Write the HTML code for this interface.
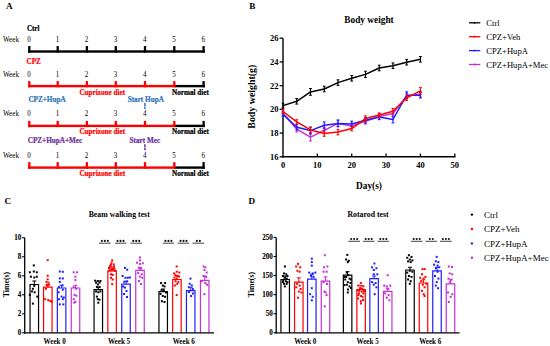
<!DOCTYPE html>
<html><head><meta charset="utf-8"><style>
html,body{margin:0;padding:0;background:#fff;overflow:hidden;width:550px;height:346px;}
svg{display:block;}
text{font-family:"Liberation Serif", serif;}
</style></head><body>
<svg width="550" height="346" viewBox="0 0 550 346">
<rect width="550" height="346" fill="#fff"/>
<text x="6" y="9.1" font-size="9.2" font-weight="bold" fill="#000" text-anchor="start" >A</text>
<text x="0" y="0" font-size="7" font-weight="bold" fill="#000" text-anchor="start" transform="translate(27.00 31.20) scale(1 1.07)" stroke="#000" stroke-width="0.22">Ctrl</text>
<text x="0" y="0" font-size="7.1" font-weight="normal" fill="#000" text-anchor="start" transform="translate(3.00 42.00) scale(1 1.12)">Week</text>
<text x="0" y="0" font-size="7.0" font-weight="normal" fill="#000" text-anchor="middle" transform="translate(29.00 42.00) scale(1 1.12)">0</text>
<text x="0" y="0" font-size="7.0" font-weight="normal" fill="#000" text-anchor="middle" transform="translate(57.40 42.00) scale(1 1.12)">1</text>
<text x="0" y="0" font-size="7.0" font-weight="normal" fill="#000" text-anchor="middle" transform="translate(86.60 42.00) scale(1 1.12)">2</text>
<text x="0" y="0" font-size="7.0" font-weight="normal" fill="#000" text-anchor="middle" transform="translate(115.50 42.00) scale(1 1.12)">3</text>
<text x="0" y="0" font-size="7.0" font-weight="normal" fill="#000" text-anchor="middle" transform="translate(144.70 42.00) scale(1 1.12)">4</text>
<text x="0" y="0" font-size="7.0" font-weight="normal" fill="#000" text-anchor="middle" transform="translate(174.00 42.00) scale(1 1.12)">5</text>
<text x="0" y="0" font-size="7.0" font-weight="normal" fill="#000" text-anchor="middle" transform="translate(203.30 42.00) scale(1 1.12)">6</text>
<line x1="28.1" y1="51.5" x2="57.7" y2="51.5" stroke="#000000" stroke-width="2.4" />
<line x1="57.7" y1="51.5" x2="86.9" y2="51.5" stroke="#000000" stroke-width="2.4" />
<line x1="86.9" y1="51.5" x2="115.8" y2="51.5" stroke="#000000" stroke-width="2.4" />
<line x1="115.8" y1="51.5" x2="145.0" y2="51.5" stroke="#000000" stroke-width="2.4" />
<line x1="145.0" y1="51.5" x2="174.3" y2="51.5" stroke="#000000" stroke-width="2.4" />
<line x1="174.3" y1="51.5" x2="204.79999999999998" y2="51.5" stroke="#000000" stroke-width="2.4" />
<line x1="29.3" y1="46.05" x2="29.3" y2="52.7" stroke="#000000" stroke-width="2.3" />
<line x1="57.7" y1="46.05" x2="57.7" y2="52.7" stroke="#000000" stroke-width="2.3" />
<line x1="86.9" y1="46.05" x2="86.9" y2="52.7" stroke="#000000" stroke-width="2.3" />
<line x1="115.8" y1="46.05" x2="115.8" y2="52.7" stroke="#000000" stroke-width="2.3" />
<line x1="145.0" y1="46.05" x2="145.0" y2="52.7" stroke="#000000" stroke-width="2.3" />
<line x1="174.3" y1="46.05" x2="174.3" y2="52.7" stroke="#000000" stroke-width="2.3" />
<line x1="203.6" y1="46.05" x2="203.6" y2="52.7" stroke="#000000" stroke-width="2.3" />
<text x="0" y="0" font-size="7.1" font-weight="bold" fill="#ff0000" text-anchor="start" transform="translate(26.60 63.60) scale(1 1.07)" stroke="#ff0000" stroke-width="0.22">CPZ</text>
<text x="0" y="0" font-size="7.1" font-weight="normal" fill="#000" text-anchor="start" transform="translate(3.00 77.00) scale(1 1.12)">Week</text>
<text x="0" y="0" font-size="7.0" font-weight="normal" fill="#000" text-anchor="middle" transform="translate(29.00 77.00) scale(1 1.12)">0</text>
<text x="0" y="0" font-size="7.0" font-weight="normal" fill="#000" text-anchor="middle" transform="translate(57.40 77.00) scale(1 1.12)">1</text>
<text x="0" y="0" font-size="7.0" font-weight="normal" fill="#000" text-anchor="middle" transform="translate(86.60 77.00) scale(1 1.12)">2</text>
<text x="0" y="0" font-size="7.0" font-weight="normal" fill="#000" text-anchor="middle" transform="translate(115.50 77.00) scale(1 1.12)">3</text>
<text x="0" y="0" font-size="7.0" font-weight="normal" fill="#000" text-anchor="middle" transform="translate(144.70 77.00) scale(1 1.12)">4</text>
<text x="0" y="0" font-size="7.0" font-weight="normal" fill="#000" text-anchor="middle" transform="translate(174.00 77.00) scale(1 1.12)">5</text>
<text x="0" y="0" font-size="7.0" font-weight="normal" fill="#000" text-anchor="middle" transform="translate(203.30 77.00) scale(1 1.12)">6</text>
<line x1="28.1" y1="86.1" x2="57.7" y2="86.1" stroke="#ff0000" stroke-width="2.4" />
<line x1="57.7" y1="86.1" x2="86.9" y2="86.1" stroke="#ff0000" stroke-width="2.4" />
<line x1="86.9" y1="86.1" x2="115.8" y2="86.1" stroke="#ff0000" stroke-width="2.4" />
<line x1="115.8" y1="86.1" x2="145.0" y2="86.1" stroke="#ff0000" stroke-width="2.4" />
<line x1="145.0" y1="86.1" x2="174.3" y2="86.1" stroke="#ff0000" stroke-width="2.4" />
<line x1="174.3" y1="86.1" x2="204.79999999999998" y2="86.1" stroke="#000000" stroke-width="2.4" />
<line x1="29.3" y1="81.1" x2="29.3" y2="87.3" stroke="#ff0000" stroke-width="2.3" />
<line x1="57.7" y1="81.1" x2="57.7" y2="87.3" stroke="#ff0000" stroke-width="2.3" />
<line x1="86.9" y1="81.1" x2="86.9" y2="87.3" stroke="#ff0000" stroke-width="2.3" />
<line x1="115.8" y1="81.1" x2="115.8" y2="87.3" stroke="#ff0000" stroke-width="2.3" />
<line x1="145.0" y1="81.1" x2="145.0" y2="87.3" stroke="#ff0000" stroke-width="2.3" />
<line x1="174.3" y1="81.1" x2="174.3" y2="87.3" stroke="#ff0000" stroke-width="2.3" />
<line x1="203.6" y1="81.1" x2="203.6" y2="87.3" stroke="#000000" stroke-width="2.3" />
<text x="0" y="0" font-size="7.2" font-weight="bold" fill="#ff0000" text-anchor="start" transform="translate(79.40 94.60) scale(1 1.07)" stroke="#ff0000" stroke-width="0.22">Cuprizone diet</text>
<text x="0" y="0" font-size="7.2" font-weight="bold" fill="#000" text-anchor="start" transform="translate(172.00 94.60) scale(1 1.07)" stroke="#000" stroke-width="0.22">Normal diet</text>
<text x="0" y="0" font-size="7.2" font-weight="bold" fill="#2e75b6" text-anchor="start" transform="translate(28.40 102.40) scale(1 1.07)" stroke="#2e75b6" stroke-width="0.22">CPZ+HupA</text>
<text x="0" y="0" font-size="7.2" font-weight="bold" fill="#2e75b6" text-anchor="start" transform="translate(127.70 102.40) scale(1 1.07)" stroke="#2e75b6" stroke-width="0.22">Start HupA</text>
<line x1="144.9" y1="103.1" x2="144.9" y2="109.1" stroke="#2e75b6" stroke-width="1.5" stroke-dasharray="2.8 0.5"/>
<text x="0" y="0" font-size="7.1" font-weight="normal" fill="#000" text-anchor="start" transform="translate(3.00 116.20) scale(1 1.12)">Week</text>
<text x="0" y="0" font-size="7.0" font-weight="normal" fill="#000" text-anchor="middle" transform="translate(29.00 116.20) scale(1 1.12)">0</text>
<text x="0" y="0" font-size="7.0" font-weight="normal" fill="#000" text-anchor="middle" transform="translate(57.40 116.20) scale(1 1.12)">1</text>
<text x="0" y="0" font-size="7.0" font-weight="normal" fill="#000" text-anchor="middle" transform="translate(86.60 116.20) scale(1 1.12)">2</text>
<text x="0" y="0" font-size="7.0" font-weight="normal" fill="#000" text-anchor="middle" transform="translate(115.50 116.20) scale(1 1.12)">3</text>
<text x="0" y="0" font-size="7.0" font-weight="normal" fill="#000" text-anchor="middle" transform="translate(144.70 116.20) scale(1 1.12)">4</text>
<text x="0" y="0" font-size="7.0" font-weight="normal" fill="#000" text-anchor="middle" transform="translate(174.00 116.20) scale(1 1.12)">5</text>
<text x="0" y="0" font-size="7.0" font-weight="normal" fill="#000" text-anchor="middle" transform="translate(203.30 116.20) scale(1 1.12)">6</text>
<line x1="28.1" y1="125.9" x2="57.7" y2="125.9" stroke="#ff0000" stroke-width="2.4" />
<line x1="57.7" y1="125.9" x2="86.9" y2="125.9" stroke="#ff0000" stroke-width="2.4" />
<line x1="86.9" y1="125.9" x2="115.8" y2="125.9" stroke="#ff0000" stroke-width="2.4" />
<line x1="115.8" y1="125.9" x2="145.0" y2="125.9" stroke="#ff0000" stroke-width="2.4" />
<line x1="145.0" y1="125.9" x2="174.3" y2="125.9" stroke="#ff0000" stroke-width="2.4" />
<line x1="174.3" y1="125.9" x2="204.79999999999998" y2="125.9" stroke="#000000" stroke-width="2.4" />
<line x1="29.3" y1="120.9" x2="29.3" y2="127.10000000000001" stroke="#ff0000" stroke-width="2.3" />
<line x1="57.7" y1="120.9" x2="57.7" y2="127.10000000000001" stroke="#ff0000" stroke-width="2.3" />
<line x1="86.9" y1="120.9" x2="86.9" y2="127.10000000000001" stroke="#ff0000" stroke-width="2.3" />
<line x1="115.8" y1="120.9" x2="115.8" y2="127.10000000000001" stroke="#ff0000" stroke-width="2.3" />
<line x1="145.0" y1="120.9" x2="145.0" y2="127.10000000000001" stroke="#ff0000" stroke-width="2.3" />
<line x1="174.3" y1="120.9" x2="174.3" y2="127.10000000000001" stroke="#ff0000" stroke-width="2.3" />
<line x1="203.6" y1="120.9" x2="203.6" y2="127.10000000000001" stroke="#000000" stroke-width="2.3" />
<text x="0" y="0" font-size="7.2" font-weight="bold" fill="#ff0000" text-anchor="start" transform="translate(79.40 134.30) scale(1 1.07)" stroke="#ff0000" stroke-width="0.22">Cuprizone diet</text>
<text x="0" y="0" font-size="7.2" font-weight="bold" fill="#000" text-anchor="start" transform="translate(172.00 134.30) scale(1 1.07)" stroke="#000" stroke-width="0.22">Normal diet</text>
<text x="0" y="0" font-size="7.2" font-weight="bold" fill="#7030a0" text-anchor="start" transform="translate(27.70 142.80) scale(1 1.07)" stroke="#7030a0" stroke-width="0.22">CPZ+HupA+Mec</text>
<text x="0" y="0" font-size="7.2" font-weight="bold" fill="#7030a0" text-anchor="start" transform="translate(129.60 142.80) scale(1 1.07)" stroke="#7030a0" stroke-width="0.22">Start Mec</text>
<line x1="144.9" y1="144.2" x2="144.9" y2="150.6" stroke="#7030a0" stroke-width="1.5" stroke-dasharray="2.8 0.5"/>
<text x="0" y="0" font-size="7.1" font-weight="normal" fill="#000" text-anchor="start" transform="translate(3.00 158.40) scale(1 1.12)">Week</text>
<text x="0" y="0" font-size="7.0" font-weight="normal" fill="#000" text-anchor="middle" transform="translate(29.00 158.40) scale(1 1.12)">0</text>
<text x="0" y="0" font-size="7.0" font-weight="normal" fill="#000" text-anchor="middle" transform="translate(57.40 158.40) scale(1 1.12)">1</text>
<text x="0" y="0" font-size="7.0" font-weight="normal" fill="#000" text-anchor="middle" transform="translate(86.60 158.40) scale(1 1.12)">2</text>
<text x="0" y="0" font-size="7.0" font-weight="normal" fill="#000" text-anchor="middle" transform="translate(115.50 158.40) scale(1 1.12)">3</text>
<text x="0" y="0" font-size="7.0" font-weight="normal" fill="#000" text-anchor="middle" transform="translate(144.70 158.40) scale(1 1.12)">4</text>
<text x="0" y="0" font-size="7.0" font-weight="normal" fill="#000" text-anchor="middle" transform="translate(174.00 158.40) scale(1 1.12)">5</text>
<text x="0" y="0" font-size="7.0" font-weight="normal" fill="#000" text-anchor="middle" transform="translate(203.30 158.40) scale(1 1.12)">6</text>
<line x1="28.1" y1="167.6" x2="57.7" y2="167.6" stroke="#ff0000" stroke-width="2.4" />
<line x1="57.7" y1="167.6" x2="86.9" y2="167.6" stroke="#ff0000" stroke-width="2.4" />
<line x1="86.9" y1="167.6" x2="115.8" y2="167.6" stroke="#ff0000" stroke-width="2.4" />
<line x1="115.8" y1="167.6" x2="145.0" y2="167.6" stroke="#ff0000" stroke-width="2.4" />
<line x1="145.0" y1="167.6" x2="174.3" y2="167.6" stroke="#ff0000" stroke-width="2.4" />
<line x1="174.3" y1="167.6" x2="204.79999999999998" y2="167.6" stroke="#000000" stroke-width="2.4" />
<line x1="29.3" y1="162.1" x2="29.3" y2="168.79999999999998" stroke="#ff0000" stroke-width="2.3" />
<line x1="57.7" y1="162.1" x2="57.7" y2="168.79999999999998" stroke="#ff0000" stroke-width="2.3" />
<line x1="86.9" y1="162.1" x2="86.9" y2="168.79999999999998" stroke="#ff0000" stroke-width="2.3" />
<line x1="115.8" y1="162.1" x2="115.8" y2="168.79999999999998" stroke="#ff0000" stroke-width="2.3" />
<line x1="145.0" y1="162.1" x2="145.0" y2="168.79999999999998" stroke="#ff0000" stroke-width="2.3" />
<line x1="174.3" y1="162.1" x2="174.3" y2="168.79999999999998" stroke="#ff0000" stroke-width="2.3" />
<line x1="203.6" y1="162.1" x2="203.6" y2="168.79999999999998" stroke="#000000" stroke-width="2.3" />
<text x="0" y="0" font-size="7.2" font-weight="bold" fill="#ff0000" text-anchor="start" transform="translate(79.40 176.00) scale(1 1.07)" stroke="#ff0000" stroke-width="0.22">Cuprizone diet</text>
<text x="0" y="0" font-size="7.2" font-weight="bold" fill="#000" text-anchor="start" transform="translate(172.00 176.00) scale(1 1.07)" stroke="#000" stroke-width="0.22">Normal diet</text>
<text x="249.2" y="9.1" font-size="9.2" font-weight="bold" fill="#000" text-anchor="start" >B</text>
<text x="369" y="23.2" font-size="9.3" font-weight="bold" fill="#000" text-anchor="middle" >Body weight</text>
<line x1="283" y1="38.2" x2="283" y2="157.5" stroke="#000000" stroke-width="1.4" />
<line x1="282.3" y1="156.8" x2="455.5" y2="156.8" stroke="#000000" stroke-width="1.4" />
<line x1="279.6" y1="156.8" x2="283" y2="156.8" stroke="#000000" stroke-width="1.3" />
<text x="278.6" y="159.8" font-size="8.5" font-weight="bold" fill="#000" text-anchor="end" >16</text>
<line x1="279.6" y1="133.08" x2="283" y2="133.08" stroke="#000000" stroke-width="1.3" />
<text x="278.6" y="136.08" font-size="8.5" font-weight="bold" fill="#000" text-anchor="end" >18</text>
<line x1="279.6" y1="109.36000000000001" x2="283" y2="109.36000000000001" stroke="#000000" stroke-width="1.3" />
<text x="278.6" y="112.36000000000001" font-size="8.5" font-weight="bold" fill="#000" text-anchor="end" >20</text>
<line x1="279.6" y1="85.64" x2="283" y2="85.64" stroke="#000000" stroke-width="1.3" />
<text x="278.6" y="88.64" font-size="8.5" font-weight="bold" fill="#000" text-anchor="end" >22</text>
<line x1="279.6" y1="61.92" x2="283" y2="61.92" stroke="#000000" stroke-width="1.3" />
<text x="278.6" y="64.92" font-size="8.5" font-weight="bold" fill="#000" text-anchor="end" >24</text>
<line x1="279.6" y1="38.2" x2="283" y2="38.2" stroke="#000000" stroke-width="1.3" />
<text x="278.6" y="41.2" font-size="8.5" font-weight="bold" fill="#000" text-anchor="end" >26</text>
<text x="283.0" y="167.6" font-size="8.5" font-weight="bold" fill="#000" text-anchor="middle" >0</text>
<line x1="317.36" y1="153.6" x2="317.36" y2="156.8" stroke="#000000" stroke-width="1.3" />
<text x="317.36" y="167.6" font-size="8.5" font-weight="bold" fill="#000" text-anchor="middle" >10</text>
<line x1="351.72" y1="153.6" x2="351.72" y2="156.8" stroke="#000000" stroke-width="1.3" />
<text x="351.72" y="167.6" font-size="8.5" font-weight="bold" fill="#000" text-anchor="middle" >20</text>
<line x1="386.08000000000004" y1="153.6" x2="386.08000000000004" y2="156.8" stroke="#000000" stroke-width="1.3" />
<text x="386.08000000000004" y="167.6" font-size="8.5" font-weight="bold" fill="#000" text-anchor="middle" >30</text>
<line x1="420.44000000000005" y1="153.6" x2="420.44000000000005" y2="156.8" stroke="#000000" stroke-width="1.3" />
<text x="420.44000000000005" y="167.6" font-size="8.5" font-weight="bold" fill="#000" text-anchor="middle" >40</text>
<line x1="454.8" y1="153.6" x2="454.8" y2="156.8" stroke="#000000" stroke-width="1.3" />
<text x="454.8" y="167.6" font-size="8.5" font-weight="bold" fill="#000" text-anchor="middle" >50</text>
<text x="369" y="188.5" font-size="9.3" font-weight="bold" fill="#000" text-anchor="middle" >Day(s)</text>
<text x="254.9" y="96.7" font-size="9.9" font-weight="bold" fill="#000" text-anchor="middle" transform="rotate(-90 254.9 96.7)">Body weight(g)</text>
<polyline fill="none" stroke="#c62ed8" stroke-width="1.5" stroke-linejoin="round" points="283.00,113.30 296.74,129.20 310.49,137.20 324.23,130.30 337.98,123.40 351.72,125.90 365.46,121.20 379.21,116.50 392.95,113.50 406.70,96.00 420.44,94.30"/>
<line x1="283.0" y1="111.1" x2="283.0" y2="115.5" stroke="#c62ed8" stroke-width="1.2" />
<line x1="281.6" y1="111.1" x2="284.4" y2="111.1" stroke="#c62ed8" stroke-width="1" />
<line x1="281.6" y1="115.5" x2="284.4" y2="115.5" stroke="#c62ed8" stroke-width="1" />
<line x1="296.744" y1="126.39999999999999" x2="296.744" y2="132.0" stroke="#c62ed8" stroke-width="1.2" />
<line x1="295.34400000000005" y1="126.39999999999999" x2="298.144" y2="126.39999999999999" stroke="#c62ed8" stroke-width="1" />
<line x1="295.34400000000005" y1="132.0" x2="298.144" y2="132.0" stroke="#c62ed8" stroke-width="1" />
<line x1="310.488" y1="133.39999999999998" x2="310.488" y2="141.0" stroke="#c62ed8" stroke-width="1.2" />
<line x1="309.088" y1="133.39999999999998" x2="311.888" y2="133.39999999999998" stroke="#c62ed8" stroke-width="1" />
<line x1="309.088" y1="141.0" x2="311.888" y2="141.0" stroke="#c62ed8" stroke-width="1" />
<line x1="324.232" y1="127.10000000000001" x2="324.232" y2="133.5" stroke="#c62ed8" stroke-width="1.2" />
<line x1="322.83200000000005" y1="127.10000000000001" x2="325.632" y2="127.10000000000001" stroke="#c62ed8" stroke-width="1" />
<line x1="322.83200000000005" y1="133.5" x2="325.632" y2="133.5" stroke="#c62ed8" stroke-width="1" />
<line x1="337.976" y1="120.2" x2="337.976" y2="126.60000000000001" stroke="#c62ed8" stroke-width="1.2" />
<line x1="336.576" y1="120.2" x2="339.376" y2="120.2" stroke="#c62ed8" stroke-width="1" />
<line x1="336.576" y1="126.60000000000001" x2="339.376" y2="126.60000000000001" stroke="#c62ed8" stroke-width="1" />
<line x1="351.72" y1="123.10000000000001" x2="351.72" y2="128.70000000000002" stroke="#c62ed8" stroke-width="1.2" />
<line x1="350.32000000000005" y1="123.10000000000001" x2="353.12" y2="123.10000000000001" stroke="#c62ed8" stroke-width="1" />
<line x1="350.32000000000005" y1="128.70000000000002" x2="353.12" y2="128.70000000000002" stroke="#c62ed8" stroke-width="1" />
<line x1="365.464" y1="118.4" x2="365.464" y2="124.0" stroke="#c62ed8" stroke-width="1.2" />
<line x1="364.064" y1="118.4" x2="366.864" y2="118.4" stroke="#c62ed8" stroke-width="1" />
<line x1="364.064" y1="124.0" x2="366.864" y2="124.0" stroke="#c62ed8" stroke-width="1" />
<line x1="379.208" y1="113.7" x2="379.208" y2="119.3" stroke="#c62ed8" stroke-width="1.2" />
<line x1="377.80800000000005" y1="113.7" x2="380.608" y2="113.7" stroke="#c62ed8" stroke-width="1" />
<line x1="377.80800000000005" y1="119.3" x2="380.608" y2="119.3" stroke="#c62ed8" stroke-width="1" />
<line x1="392.952" y1="110.7" x2="392.952" y2="116.3" stroke="#c62ed8" stroke-width="1.2" />
<line x1="391.552" y1="110.7" x2="394.352" y2="110.7" stroke="#c62ed8" stroke-width="1" />
<line x1="391.552" y1="116.3" x2="394.352" y2="116.3" stroke="#c62ed8" stroke-width="1" />
<line x1="406.696" y1="93.2" x2="406.696" y2="98.8" stroke="#c62ed8" stroke-width="1.2" />
<line x1="405.29600000000005" y1="93.2" x2="408.096" y2="93.2" stroke="#c62ed8" stroke-width="1" />
<line x1="405.29600000000005" y1="98.8" x2="408.096" y2="98.8" stroke="#c62ed8" stroke-width="1" />
<line x1="420.44000000000005" y1="91.5" x2="420.44000000000005" y2="97.1" stroke="#c62ed8" stroke-width="1.2" />
<line x1="419.0400000000001" y1="91.5" x2="421.84000000000003" y2="91.5" stroke="#c62ed8" stroke-width="1" />
<line x1="419.0400000000001" y1="97.1" x2="421.84000000000003" y2="97.1" stroke="#c62ed8" stroke-width="1" />
<polyline fill="none" stroke="#1f1fff" stroke-width="1.5" stroke-linejoin="round" points="283.00,114.20 296.74,127.30 310.49,130.60 324.23,125.30 337.98,123.40 351.72,123.90 365.46,120.30 379.21,116.90 392.95,119.50 406.70,95.20 420.44,95.20"/>
<line x1="283.0" y1="112.0" x2="283.0" y2="116.4" stroke="#1f1fff" stroke-width="1.2" />
<line x1="281.6" y1="112.0" x2="284.4" y2="112.0" stroke="#1f1fff" stroke-width="1" />
<line x1="281.6" y1="116.4" x2="284.4" y2="116.4" stroke="#1f1fff" stroke-width="1" />
<line x1="296.744" y1="124.5" x2="296.744" y2="130.1" stroke="#1f1fff" stroke-width="1.2" />
<line x1="295.34400000000005" y1="124.5" x2="298.144" y2="124.5" stroke="#1f1fff" stroke-width="1" />
<line x1="295.34400000000005" y1="130.1" x2="298.144" y2="130.1" stroke="#1f1fff" stroke-width="1" />
<line x1="310.488" y1="127.19999999999999" x2="310.488" y2="134.0" stroke="#1f1fff" stroke-width="1.2" />
<line x1="309.088" y1="127.19999999999999" x2="311.888" y2="127.19999999999999" stroke="#1f1fff" stroke-width="1" />
<line x1="309.088" y1="134.0" x2="311.888" y2="134.0" stroke="#1f1fff" stroke-width="1" />
<line x1="324.232" y1="121.89999999999999" x2="324.232" y2="128.7" stroke="#1f1fff" stroke-width="1.2" />
<line x1="322.83200000000005" y1="121.89999999999999" x2="325.632" y2="121.89999999999999" stroke="#1f1fff" stroke-width="1" />
<line x1="322.83200000000005" y1="128.7" x2="325.632" y2="128.7" stroke="#1f1fff" stroke-width="1" />
<line x1="337.976" y1="120.0" x2="337.976" y2="126.80000000000001" stroke="#1f1fff" stroke-width="1.2" />
<line x1="336.576" y1="120.0" x2="339.376" y2="120.0" stroke="#1f1fff" stroke-width="1" />
<line x1="336.576" y1="126.80000000000001" x2="339.376" y2="126.80000000000001" stroke="#1f1fff" stroke-width="1" />
<line x1="351.72" y1="121.10000000000001" x2="351.72" y2="126.7" stroke="#1f1fff" stroke-width="1.2" />
<line x1="350.32000000000005" y1="121.10000000000001" x2="353.12" y2="121.10000000000001" stroke="#1f1fff" stroke-width="1" />
<line x1="350.32000000000005" y1="126.7" x2="353.12" y2="126.7" stroke="#1f1fff" stroke-width="1" />
<line x1="365.464" y1="117.5" x2="365.464" y2="123.1" stroke="#1f1fff" stroke-width="1.2" />
<line x1="364.064" y1="117.5" x2="366.864" y2="117.5" stroke="#1f1fff" stroke-width="1" />
<line x1="364.064" y1="123.1" x2="366.864" y2="123.1" stroke="#1f1fff" stroke-width="1" />
<line x1="379.208" y1="114.10000000000001" x2="379.208" y2="119.7" stroke="#1f1fff" stroke-width="1.2" />
<line x1="377.80800000000005" y1="114.10000000000001" x2="380.608" y2="114.10000000000001" stroke="#1f1fff" stroke-width="1" />
<line x1="377.80800000000005" y1="119.7" x2="380.608" y2="119.7" stroke="#1f1fff" stroke-width="1" />
<line x1="392.952" y1="116.1" x2="392.952" y2="122.9" stroke="#1f1fff" stroke-width="1.2" />
<line x1="391.552" y1="116.1" x2="394.352" y2="116.1" stroke="#1f1fff" stroke-width="1" />
<line x1="391.552" y1="122.9" x2="394.352" y2="122.9" stroke="#1f1fff" stroke-width="1" />
<line x1="406.696" y1="91.8" x2="406.696" y2="98.60000000000001" stroke="#1f1fff" stroke-width="1.2" />
<line x1="405.29600000000005" y1="91.8" x2="408.096" y2="91.8" stroke="#1f1fff" stroke-width="1" />
<line x1="405.29600000000005" y1="98.60000000000001" x2="408.096" y2="98.60000000000001" stroke="#1f1fff" stroke-width="1" />
<line x1="420.44000000000005" y1="92.4" x2="420.44000000000005" y2="98.0" stroke="#1f1fff" stroke-width="1.2" />
<line x1="419.0400000000001" y1="92.4" x2="421.84000000000003" y2="92.4" stroke="#1f1fff" stroke-width="1" />
<line x1="419.0400000000001" y1="98.0" x2="421.84000000000003" y2="98.0" stroke="#1f1fff" stroke-width="1" />
<polyline fill="none" stroke="#ff0000" stroke-width="1.5" stroke-linejoin="round" points="283.00,111.50 296.74,121.90 310.49,129.90 324.23,133.50 337.98,132.10 351.72,128.60 365.46,118.60 379.21,115.10 392.95,111.30 406.70,97.80 420.44,90.80"/>
<line x1="283.0" y1="109.3" x2="283.0" y2="113.7" stroke="#ff0000" stroke-width="1.2" />
<line x1="281.6" y1="109.3" x2="284.4" y2="109.3" stroke="#ff0000" stroke-width="1" />
<line x1="281.6" y1="113.7" x2="284.4" y2="113.7" stroke="#ff0000" stroke-width="1" />
<line x1="296.744" y1="119.7" x2="296.744" y2="124.10000000000001" stroke="#ff0000" stroke-width="1.2" />
<line x1="295.34400000000005" y1="119.7" x2="298.144" y2="119.7" stroke="#ff0000" stroke-width="1" />
<line x1="295.34400000000005" y1="124.10000000000001" x2="298.144" y2="124.10000000000001" stroke="#ff0000" stroke-width="1" />
<line x1="310.488" y1="127.10000000000001" x2="310.488" y2="132.70000000000002" stroke="#ff0000" stroke-width="1.2" />
<line x1="309.088" y1="127.10000000000001" x2="311.888" y2="127.10000000000001" stroke="#ff0000" stroke-width="1" />
<line x1="309.088" y1="132.70000000000002" x2="311.888" y2="132.70000000000002" stroke="#ff0000" stroke-width="1" />
<line x1="324.232" y1="130.7" x2="324.232" y2="136.3" stroke="#ff0000" stroke-width="1.2" />
<line x1="322.83200000000005" y1="130.7" x2="325.632" y2="130.7" stroke="#ff0000" stroke-width="1" />
<line x1="322.83200000000005" y1="136.3" x2="325.632" y2="136.3" stroke="#ff0000" stroke-width="1" />
<line x1="337.976" y1="129.29999999999998" x2="337.976" y2="134.9" stroke="#ff0000" stroke-width="1.2" />
<line x1="336.576" y1="129.29999999999998" x2="339.376" y2="129.29999999999998" stroke="#ff0000" stroke-width="1" />
<line x1="336.576" y1="134.9" x2="339.376" y2="134.9" stroke="#ff0000" stroke-width="1" />
<line x1="351.72" y1="126.39999999999999" x2="351.72" y2="130.79999999999998" stroke="#ff0000" stroke-width="1.2" />
<line x1="350.32000000000005" y1="126.39999999999999" x2="353.12" y2="126.39999999999999" stroke="#ff0000" stroke-width="1" />
<line x1="350.32000000000005" y1="130.79999999999998" x2="353.12" y2="130.79999999999998" stroke="#ff0000" stroke-width="1" />
<line x1="365.464" y1="115.8" x2="365.464" y2="121.39999999999999" stroke="#ff0000" stroke-width="1.2" />
<line x1="364.064" y1="115.8" x2="366.864" y2="115.8" stroke="#ff0000" stroke-width="1" />
<line x1="364.064" y1="121.39999999999999" x2="366.864" y2="121.39999999999999" stroke="#ff0000" stroke-width="1" />
<line x1="379.208" y1="112.89999999999999" x2="379.208" y2="117.3" stroke="#ff0000" stroke-width="1.2" />
<line x1="377.80800000000005" y1="112.89999999999999" x2="380.608" y2="112.89999999999999" stroke="#ff0000" stroke-width="1" />
<line x1="377.80800000000005" y1="117.3" x2="380.608" y2="117.3" stroke="#ff0000" stroke-width="1" />
<line x1="392.952" y1="108.5" x2="392.952" y2="114.1" stroke="#ff0000" stroke-width="1.2" />
<line x1="391.552" y1="108.5" x2="394.352" y2="108.5" stroke="#ff0000" stroke-width="1" />
<line x1="391.552" y1="114.1" x2="394.352" y2="114.1" stroke="#ff0000" stroke-width="1" />
<line x1="406.696" y1="95.0" x2="406.696" y2="100.6" stroke="#ff0000" stroke-width="1.2" />
<line x1="405.29600000000005" y1="95.0" x2="408.096" y2="95.0" stroke="#ff0000" stroke-width="1" />
<line x1="405.29600000000005" y1="100.6" x2="408.096" y2="100.6" stroke="#ff0000" stroke-width="1" />
<line x1="420.44000000000005" y1="87.39999999999999" x2="420.44000000000005" y2="94.2" stroke="#ff0000" stroke-width="1.2" />
<line x1="419.0400000000001" y1="87.39999999999999" x2="421.84000000000003" y2="87.39999999999999" stroke="#ff0000" stroke-width="1" />
<line x1="419.0400000000001" y1="94.2" x2="421.84000000000003" y2="94.2" stroke="#ff0000" stroke-width="1" />
<polyline fill="none" stroke="#000000" stroke-width="1.5" stroke-linejoin="round" points="283.00,105.60 296.74,101.30 310.49,91.90 324.23,89.00 337.98,82.60 351.72,78.30 365.46,74.40 379.21,68.00 392.95,65.70 406.70,62.20 420.44,59.30"/>
<line x1="283.0" y1="103.19999999999999" x2="283.0" y2="108.0" stroke="#000000" stroke-width="1.2" />
<line x1="281.6" y1="103.19999999999999" x2="284.4" y2="103.19999999999999" stroke="#000000" stroke-width="1" />
<line x1="281.6" y1="108.0" x2="284.4" y2="108.0" stroke="#000000" stroke-width="1" />
<line x1="296.744" y1="98.5" x2="296.744" y2="104.1" stroke="#000000" stroke-width="1.2" />
<line x1="295.34400000000005" y1="98.5" x2="298.144" y2="98.5" stroke="#000000" stroke-width="1" />
<line x1="295.34400000000005" y1="104.1" x2="298.144" y2="104.1" stroke="#000000" stroke-width="1" />
<line x1="310.488" y1="88.5" x2="310.488" y2="95.30000000000001" stroke="#000000" stroke-width="1.2" />
<line x1="309.088" y1="88.5" x2="311.888" y2="88.5" stroke="#000000" stroke-width="1" />
<line x1="309.088" y1="95.30000000000001" x2="311.888" y2="95.30000000000001" stroke="#000000" stroke-width="1" />
<line x1="324.232" y1="86.2" x2="324.232" y2="91.8" stroke="#000000" stroke-width="1.2" />
<line x1="322.83200000000005" y1="86.2" x2="325.632" y2="86.2" stroke="#000000" stroke-width="1" />
<line x1="322.83200000000005" y1="91.8" x2="325.632" y2="91.8" stroke="#000000" stroke-width="1" />
<line x1="337.976" y1="79.8" x2="337.976" y2="85.39999999999999" stroke="#000000" stroke-width="1.2" />
<line x1="336.576" y1="79.8" x2="339.376" y2="79.8" stroke="#000000" stroke-width="1" />
<line x1="336.576" y1="85.39999999999999" x2="339.376" y2="85.39999999999999" stroke="#000000" stroke-width="1" />
<line x1="351.72" y1="75.5" x2="351.72" y2="81.1" stroke="#000000" stroke-width="1.2" />
<line x1="350.32000000000005" y1="75.5" x2="353.12" y2="75.5" stroke="#000000" stroke-width="1" />
<line x1="350.32000000000005" y1="81.1" x2="353.12" y2="81.1" stroke="#000000" stroke-width="1" />
<line x1="365.464" y1="71.2" x2="365.464" y2="77.60000000000001" stroke="#000000" stroke-width="1.2" />
<line x1="364.064" y1="71.2" x2="366.864" y2="71.2" stroke="#000000" stroke-width="1" />
<line x1="364.064" y1="77.60000000000001" x2="366.864" y2="77.60000000000001" stroke="#000000" stroke-width="1" />
<line x1="379.208" y1="65.2" x2="379.208" y2="70.8" stroke="#000000" stroke-width="1.2" />
<line x1="377.80800000000005" y1="65.2" x2="380.608" y2="65.2" stroke="#000000" stroke-width="1" />
<line x1="377.80800000000005" y1="70.8" x2="380.608" y2="70.8" stroke="#000000" stroke-width="1" />
<line x1="392.952" y1="62.900000000000006" x2="392.952" y2="68.5" stroke="#000000" stroke-width="1.2" />
<line x1="391.552" y1="62.900000000000006" x2="394.352" y2="62.900000000000006" stroke="#000000" stroke-width="1" />
<line x1="391.552" y1="68.5" x2="394.352" y2="68.5" stroke="#000000" stroke-width="1" />
<line x1="406.696" y1="59.400000000000006" x2="406.696" y2="65.0" stroke="#000000" stroke-width="1.2" />
<line x1="405.29600000000005" y1="59.400000000000006" x2="408.096" y2="59.400000000000006" stroke="#000000" stroke-width="1" />
<line x1="405.29600000000005" y1="65.0" x2="408.096" y2="65.0" stroke="#000000" stroke-width="1" />
<line x1="420.44000000000005" y1="56.5" x2="420.44000000000005" y2="62.099999999999994" stroke="#000000" stroke-width="1.2" />
<line x1="419.0400000000001" y1="56.5" x2="421.84000000000003" y2="56.5" stroke="#000000" stroke-width="1" />
<line x1="419.0400000000001" y1="62.099999999999994" x2="421.84000000000003" y2="62.099999999999994" stroke="#000000" stroke-width="1" />
<line x1="469" y1="22.8" x2="480.3" y2="22.8" stroke="#000000" stroke-width="1.3" />
<circle cx="474.6" cy="22.8" r="0.9" fill="#000000"/>
<text x="486.3" y="25.8" font-size="8.6" font-weight="normal" fill="#000" text-anchor="start" >Ctrl</text>
<line x1="469" y1="36.7" x2="480.3" y2="36.7" stroke="#ff0000" stroke-width="1.3" />
<circle cx="474.6" cy="36.7" r="0.9" fill="#ff0000"/>
<text x="486.3" y="39.7" font-size="8.6" font-weight="normal" fill="#000" text-anchor="start" >CPZ+Veh</text>
<line x1="469" y1="50.6" x2="480.3" y2="50.6" stroke="#1f1fff" stroke-width="1.3" />
<circle cx="474.6" cy="50.6" r="0.9" fill="#1f1fff"/>
<text x="486.3" y="53.6" font-size="8.6" font-weight="normal" fill="#000" text-anchor="start" >CPZ+HupA</text>
<line x1="469" y1="64.5" x2="480.3" y2="64.5" stroke="#c62ed8" stroke-width="1.3" />
<circle cx="474.6" cy="64.5" r="0.9" fill="#c62ed8"/>
<text x="486.3" y="67.5" font-size="8.6" font-weight="normal" fill="#000" text-anchor="start" >CPZ+HupA+Mec</text>
<text x="4.4" y="204" font-size="9.2" font-weight="bold" fill="#000" text-anchor="start" >C</text>
<text x="119.2" y="217.0" font-size="7.8" font-weight="bold" fill="#000" text-anchor="middle" >Beam walking test</text>
<path d="M30.05,332.80 V284.50 H38.55 V332.80" fill="none" stroke="#000000" stroke-width="1.2"/>
<line x1="34.3" y1="284.5" x2="34.3" y2="281" stroke="#000000" stroke-width="1.0" />
<line x1="32.3" y1="281" x2="36.3" y2="281" stroke="#000000" stroke-width="1.0" />
<path d="M43.55,332.80 V287.10 H52.05 V332.80" fill="none" stroke="#ff0000" stroke-width="1.2"/>
<line x1="47.8" y1="287.1" x2="47.8" y2="284.5" stroke="#ff0000" stroke-width="1.0" />
<line x1="45.8" y1="284.5" x2="49.8" y2="284.5" stroke="#ff0000" stroke-width="1.0" />
<path d="M57.35,332.80 V288.00 H65.85 V332.80" fill="none" stroke="#1f1fff" stroke-width="1.2"/>
<line x1="61.6" y1="288" x2="61.6" y2="285.3" stroke="#1f1fff" stroke-width="1.0" />
<line x1="59.6" y1="285.3" x2="63.6" y2="285.3" stroke="#1f1fff" stroke-width="1.0" />
<path d="M71.25,332.80 V288.00 H79.75 V332.80" fill="none" stroke="#c62ed8" stroke-width="1.2"/>
<line x1="75.5" y1="288" x2="75.5" y2="285.3" stroke="#c62ed8" stroke-width="1.0" />
<line x1="73.5" y1="285.3" x2="77.5" y2="285.3" stroke="#c62ed8" stroke-width="1.0" />
<text x="0" y="0" font-size="7.1" font-weight="bold" fill="#000" text-anchor="middle" transform="translate(54.70 343.60) scale(1 1.08)">Week 0</text>
<path d="M94.05,332.80 V289.70 H102.55 V332.80" fill="none" stroke="#000000" stroke-width="1.2"/>
<line x1="98.3" y1="289.7" x2="98.3" y2="287.1" stroke="#000000" stroke-width="1.0" />
<line x1="96.3" y1="287.1" x2="100.3" y2="287.1" stroke="#000000" stroke-width="1.0" />
<path d="M107.85,332.80 V270.80 H116.35 V332.80" fill="none" stroke="#ff0000" stroke-width="1.2"/>
<line x1="112.1" y1="270.8" x2="112.1" y2="268" stroke="#ff0000" stroke-width="1.0" />
<line x1="110.1" y1="268" x2="114.1" y2="268" stroke="#ff0000" stroke-width="1.0" />
<path d="M121.75,332.80 V284.10 H130.25 V332.80" fill="none" stroke="#1f1fff" stroke-width="1.2"/>
<line x1="126.0" y1="284.1" x2="126.0" y2="281.3" stroke="#1f1fff" stroke-width="1.0" />
<line x1="124.0" y1="281.3" x2="128.0" y2="281.3" stroke="#1f1fff" stroke-width="1.0" />
<path d="M135.75,332.80 V270.30 H144.25 V332.80" fill="none" stroke="#c62ed8" stroke-width="1.2"/>
<line x1="140.0" y1="270.3" x2="140.0" y2="267.4" stroke="#c62ed8" stroke-width="1.0" />
<line x1="138.0" y1="267.4" x2="142.0" y2="267.4" stroke="#c62ed8" stroke-width="1.0" />
<text x="0" y="0" font-size="7.1" font-weight="bold" fill="#000" text-anchor="middle" transform="translate(119.05 343.60) scale(1 1.08)">Week 5</text>
<path d="M158.95,332.80 V291.60 H167.45 V332.80" fill="none" stroke="#000000" stroke-width="1.2"/>
<line x1="163.2" y1="291.6" x2="163.2" y2="289" stroke="#000000" stroke-width="1.0" />
<line x1="161.2" y1="289" x2="165.2" y2="289" stroke="#000000" stroke-width="1.0" />
<path d="M172.65,332.80 V279.50 H181.15 V332.80" fill="none" stroke="#ff0000" stroke-width="1.2"/>
<line x1="176.9" y1="279.5" x2="176.9" y2="276" stroke="#ff0000" stroke-width="1.0" />
<line x1="174.9" y1="276" x2="178.9" y2="276" stroke="#ff0000" stroke-width="1.0" />
<path d="M186.45,332.80 V290.70 H194.95 V332.80" fill="none" stroke="#1f1fff" stroke-width="1.2"/>
<line x1="190.7" y1="290.7" x2="190.7" y2="287.3" stroke="#1f1fff" stroke-width="1.0" />
<line x1="188.7" y1="287.3" x2="192.7" y2="287.3" stroke="#1f1fff" stroke-width="1.0" />
<path d="M200.45,332.80 V280.30 H208.95 V332.80" fill="none" stroke="#c62ed8" stroke-width="1.2"/>
<line x1="204.7" y1="280.3" x2="204.7" y2="276" stroke="#c62ed8" stroke-width="1.0" />
<line x1="202.7" y1="276" x2="206.7" y2="276" stroke="#c62ed8" stroke-width="1.0" />
<text x="0" y="0" font-size="7.1" font-weight="bold" fill="#000" text-anchor="middle" transform="translate(183.80 343.60) scale(1 1.08)">Week 6</text>
<rect x="32.80" y="264.40" width="2.0" height="2.0" fill="#000000"/>
<rect x="28.80" y="271.30" width="2.0" height="2.0" fill="#000000"/>
<rect x="32.80" y="270.50" width="2.0" height="2.0" fill="#000000"/>
<rect x="35.80" y="271.30" width="2.0" height="2.0" fill="#000000"/>
<rect x="29.90" y="275.70" width="2.0" height="2.0" fill="#000000"/>
<rect x="33.30" y="276.50" width="2.0" height="2.0" fill="#000000"/>
<rect x="35.80" y="275.70" width="2.0" height="2.0" fill="#000000"/>
<rect x="31.90" y="287.80" width="2.0" height="2.0" fill="#000000"/>
<rect x="31.10" y="290.40" width="2.0" height="2.0" fill="#000000"/>
<rect x="33.70" y="291.30" width="2.0" height="2.0" fill="#000000"/>
<rect x="28.80" y="293.90" width="2.0" height="2.0" fill="#000000"/>
<rect x="36.30" y="295.60" width="2.0" height="2.0" fill="#000000"/>
<rect x="31.90" y="302.60" width="2.0" height="2.0" fill="#000000"/>
<rect x="33.30" y="284.90" width="2.0" height="2.0" fill="#000000"/>
<rect x="94.20" y="279.70" width="2.0" height="2.0" fill="#000000"/>
<rect x="96.80" y="280.00" width="2.0" height="2.0" fill="#000000"/>
<rect x="99.40" y="280.00" width="2.0" height="2.0" fill="#000000"/>
<rect x="95.10" y="281.70" width="2.0" height="2.0" fill="#000000"/>
<rect x="98.50" y="281.70" width="2.0" height="2.0" fill="#000000"/>
<rect x="96.80" y="283.50" width="2.0" height="2.0" fill="#000000"/>
<rect x="95.90" y="286.10" width="2.0" height="2.0" fill="#000000"/>
<rect x="98.50" y="286.10" width="2.0" height="2.0" fill="#000000"/>
<rect x="95.10" y="290.40" width="2.0" height="2.0" fill="#000000"/>
<rect x="97.30" y="291.30" width="2.0" height="2.0" fill="#000000"/>
<rect x="99.40" y="290.40" width="2.0" height="2.0" fill="#000000"/>
<rect x="96.80" y="298.20" width="2.0" height="2.0" fill="#000000"/>
<rect x="98.50" y="298.70" width="2.0" height="2.0" fill="#000000"/>
<rect x="97.30" y="301.70" width="2.0" height="2.0" fill="#000000"/>
<rect x="95.90" y="295.60" width="2.0" height="2.0" fill="#000000"/>
<rect x="160.10" y="282.00" width="2.0" height="2.0" fill="#000000"/>
<rect x="164.10" y="282.00" width="2.0" height="2.0" fill="#000000"/>
<rect x="161.80" y="284.50" width="2.0" height="2.0" fill="#000000"/>
<rect x="163.50" y="285.40" width="2.0" height="2.0" fill="#000000"/>
<rect x="160.60" y="288.90" width="2.0" height="2.0" fill="#000000"/>
<rect x="162.70" y="289.70" width="2.0" height="2.0" fill="#000000"/>
<rect x="161.80" y="295.00" width="2.0" height="2.0" fill="#000000"/>
<rect x="164.10" y="295.80" width="2.0" height="2.0" fill="#000000"/>
<rect x="160.90" y="300.20" width="2.0" height="2.0" fill="#000000"/>
<rect x="163.50" y="301.00" width="2.0" height="2.0" fill="#000000"/>
<rect x="165.00" y="291.50" width="2.0" height="2.0" fill="#000000"/>
<rect x="159.50" y="293.00" width="2.0" height="2.0" fill="#000000"/>
<rect x="46.70" y="259.20" width="2.0" height="2.0" fill="#ff0000"/>
<rect x="46.70" y="274.80" width="2.0" height="2.0" fill="#ff0000"/>
<rect x="46.70" y="278.30" width="2.0" height="2.0" fill="#ff0000"/>
<rect x="45.50" y="280.90" width="2.0" height="2.0" fill="#ff0000"/>
<rect x="47.50" y="281.70" width="2.0" height="2.0" fill="#ff0000"/>
<rect x="45.80" y="284.30" width="2.0" height="2.0" fill="#ff0000"/>
<rect x="47.90" y="283.80" width="2.0" height="2.0" fill="#ff0000"/>
<rect x="44.90" y="287.80" width="2.0" height="2.0" fill="#ff0000"/>
<rect x="44.10" y="298.20" width="2.0" height="2.0" fill="#ff0000"/>
<rect x="47.20" y="299.10" width="2.0" height="2.0" fill="#ff0000"/>
<rect x="49.30" y="300.00" width="2.0" height="2.0" fill="#ff0000"/>
<rect x="50.70" y="300.80" width="2.0" height="2.0" fill="#ff0000"/>
<rect x="109.00" y="265.00" width="2.0" height="2.0" fill="#ff0000"/>
<rect x="113.00" y="265.50" width="2.0" height="2.0" fill="#ff0000"/>
<rect x="111.00" y="269.00" width="2.0" height="2.0" fill="#ff0000"/>
<rect x="108.50" y="269.50" width="2.0" height="2.0" fill="#ff0000"/>
<rect x="113.50" y="267.50" width="2.0" height="2.0" fill="#ff0000"/>
<rect x="111.20" y="259.40" width="2.0" height="2.0" fill="#ff0000"/>
<rect x="110.60" y="261.70" width="2.0" height="2.0" fill="#ff0000"/>
<rect x="110.00" y="263.50" width="2.0" height="2.0" fill="#ff0000"/>
<rect x="112.70" y="263.50" width="2.0" height="2.0" fill="#ff0000"/>
<rect x="108.00" y="267.00" width="2.0" height="2.0" fill="#ff0000"/>
<rect x="110.60" y="266.40" width="2.0" height="2.0" fill="#ff0000"/>
<rect x="112.30" y="268.10" width="2.0" height="2.0" fill="#ff0000"/>
<rect x="109.20" y="269.30" width="2.0" height="2.0" fill="#ff0000"/>
<rect x="114.00" y="269.80" width="2.0" height="2.0" fill="#ff0000"/>
<rect x="110.00" y="273.30" width="2.0" height="2.0" fill="#ff0000"/>
<rect x="111.70" y="273.90" width="2.0" height="2.0" fill="#ff0000"/>
<rect x="110.00" y="276.80" width="2.0" height="2.0" fill="#ff0000"/>
<rect x="111.70" y="278.50" width="2.0" height="2.0" fill="#ff0000"/>
<rect x="111.20" y="283.10" width="2.0" height="2.0" fill="#ff0000"/>
<rect x="173.50" y="276.50" width="2.0" height="2.0" fill="#ff0000"/>
<rect x="178.00" y="275.50" width="2.0" height="2.0" fill="#ff0000"/>
<rect x="175.50" y="278.00" width="2.0" height="2.0" fill="#ff0000"/>
<rect x="175.70" y="265.50" width="2.0" height="2.0" fill="#ff0000"/>
<rect x="175.70" y="270.70" width="2.0" height="2.0" fill="#ff0000"/>
<rect x="173.10" y="272.40" width="2.0" height="2.0" fill="#ff0000"/>
<rect x="178.30" y="271.50" width="2.0" height="2.0" fill="#ff0000"/>
<rect x="174.50" y="274.10" width="2.0" height="2.0" fill="#ff0000"/>
<rect x="176.50" y="275.00" width="2.0" height="2.0" fill="#ff0000"/>
<rect x="174.50" y="280.20" width="2.0" height="2.0" fill="#ff0000"/>
<rect x="177.40" y="281.10" width="2.0" height="2.0" fill="#ff0000"/>
<rect x="176.20" y="282.80" width="2.0" height="2.0" fill="#ff0000"/>
<rect x="173.90" y="284.50" width="2.0" height="2.0" fill="#ff0000"/>
<rect x="175.70" y="294.10" width="2.0" height="2.0" fill="#ff0000"/>
<rect x="58.80" y="270.50" width="2.0" height="2.0" fill="#1f1fff"/>
<rect x="61.80" y="270.80" width="2.0" height="2.0" fill="#1f1fff"/>
<rect x="58.80" y="277.40" width="2.0" height="2.0" fill="#1f1fff"/>
<rect x="61.80" y="277.40" width="2.0" height="2.0" fill="#1f1fff"/>
<rect x="58.80" y="280.90" width="2.0" height="2.0" fill="#1f1fff"/>
<rect x="61.40" y="284.30" width="2.0" height="2.0" fill="#1f1fff"/>
<rect x="57.90" y="286.10" width="2.0" height="2.0" fill="#1f1fff"/>
<rect x="61.80" y="288.70" width="2.0" height="2.0" fill="#1f1fff"/>
<rect x="57.60" y="291.30" width="2.0" height="2.0" fill="#1f1fff"/>
<rect x="60.50" y="295.60" width="2.0" height="2.0" fill="#1f1fff"/>
<rect x="62.80" y="296.50" width="2.0" height="2.0" fill="#1f1fff"/>
<rect x="57.90" y="298.20" width="2.0" height="2.0" fill="#1f1fff"/>
<rect x="61.80" y="298.20" width="2.0" height="2.0" fill="#1f1fff"/>
<rect x="58.80" y="303.40" width="2.0" height="2.0" fill="#1f1fff"/>
<rect x="62.30" y="303.40" width="2.0" height="2.0" fill="#1f1fff"/>
<rect x="123.90" y="266.90" width="2.0" height="2.0" fill="#1f1fff"/>
<rect x="126.20" y="268.70" width="2.0" height="2.0" fill="#1f1fff"/>
<rect x="121.60" y="275.00" width="2.0" height="2.0" fill="#1f1fff"/>
<rect x="124.50" y="276.80" width="2.0" height="2.0" fill="#1f1fff"/>
<rect x="126.80" y="276.80" width="2.0" height="2.0" fill="#1f1fff"/>
<rect x="128.90" y="276.50" width="2.0" height="2.0" fill="#1f1fff"/>
<rect x="123.30" y="280.80" width="2.0" height="2.0" fill="#1f1fff"/>
<rect x="126.20" y="280.30" width="2.0" height="2.0" fill="#1f1fff"/>
<rect x="122.10" y="285.50" width="2.0" height="2.0" fill="#1f1fff"/>
<rect x="123.90" y="286.60" width="2.0" height="2.0" fill="#1f1fff"/>
<rect x="125.50" y="290.00" width="2.0" height="2.0" fill="#1f1fff"/>
<rect x="123.00" y="293.00" width="2.0" height="2.0" fill="#1f1fff"/>
<rect x="126.00" y="296.00" width="2.0" height="2.0" fill="#1f1fff"/>
<rect x="189.50" y="277.60" width="2.0" height="2.0" fill="#1f1fff"/>
<rect x="188.70" y="282.80" width="2.0" height="2.0" fill="#1f1fff"/>
<rect x="190.80" y="284.50" width="2.0" height="2.0" fill="#1f1fff"/>
<rect x="187.80" y="286.30" width="2.0" height="2.0" fill="#1f1fff"/>
<rect x="191.80" y="288.00" width="2.0" height="2.0" fill="#1f1fff"/>
<rect x="190.10" y="295.00" width="2.0" height="2.0" fill="#1f1fff"/>
<rect x="188.00" y="291.00" width="2.0" height="2.0" fill="#1f1fff"/>
<rect x="192.00" y="292.50" width="2.0" height="2.0" fill="#1f1fff"/>
<rect x="72.70" y="271.30" width="2.0" height="2.0" fill="#c62ed8"/>
<rect x="76.10" y="271.30" width="2.0" height="2.0" fill="#c62ed8"/>
<rect x="74.40" y="275.70" width="2.0" height="2.0" fill="#c62ed8"/>
<rect x="74.40" y="279.10" width="2.0" height="2.0" fill="#c62ed8"/>
<rect x="72.70" y="286.10" width="2.0" height="2.0" fill="#c62ed8"/>
<rect x="75.30" y="287.80" width="2.0" height="2.0" fill="#c62ed8"/>
<rect x="73.50" y="293.90" width="2.0" height="2.0" fill="#c62ed8"/>
<rect x="75.30" y="294.70" width="2.0" height="2.0" fill="#c62ed8"/>
<rect x="72.70" y="298.20" width="2.0" height="2.0" fill="#c62ed8"/>
<rect x="74.40" y="300.80" width="2.0" height="2.0" fill="#c62ed8"/>
<rect x="73.20" y="301.70" width="2.0" height="2.0" fill="#c62ed8"/>
<rect x="138.90" y="256.50" width="2.0" height="2.0" fill="#c62ed8"/>
<rect x="138.90" y="259.40" width="2.0" height="2.0" fill="#c62ed8"/>
<rect x="136.00" y="261.70" width="2.0" height="2.0" fill="#c62ed8"/>
<rect x="138.90" y="262.90" width="2.0" height="2.0" fill="#c62ed8"/>
<rect x="141.80" y="262.30" width="2.0" height="2.0" fill="#c62ed8"/>
<rect x="137.80" y="266.90" width="2.0" height="2.0" fill="#c62ed8"/>
<rect x="140.10" y="267.50" width="2.0" height="2.0" fill="#c62ed8"/>
<rect x="137.20" y="272.10" width="2.0" height="2.0" fill="#c62ed8"/>
<rect x="140.70" y="273.30" width="2.0" height="2.0" fill="#c62ed8"/>
<rect x="138.90" y="275.60" width="2.0" height="2.0" fill="#c62ed8"/>
<rect x="141.20" y="276.80" width="2.0" height="2.0" fill="#c62ed8"/>
<rect x="138.00" y="280.00" width="2.0" height="2.0" fill="#c62ed8"/>
<rect x="140.00" y="283.00" width="2.0" height="2.0" fill="#c62ed8"/>
<rect x="202.60" y="265.50" width="2.0" height="2.0" fill="#c62ed8"/>
<rect x="204.30" y="266.30" width="2.0" height="2.0" fill="#c62ed8"/>
<rect x="203.40" y="269.00" width="2.0" height="2.0" fill="#c62ed8"/>
<rect x="205.70" y="271.50" width="2.0" height="2.0" fill="#c62ed8"/>
<rect x="202.60" y="275.00" width="2.0" height="2.0" fill="#c62ed8"/>
<rect x="205.20" y="275.90" width="2.0" height="2.0" fill="#c62ed8"/>
<rect x="200.80" y="280.20" width="2.0" height="2.0" fill="#c62ed8"/>
<rect x="204.30" y="282.00" width="2.0" height="2.0" fill="#c62ed8"/>
<rect x="206.00" y="283.70" width="2.0" height="2.0" fill="#c62ed8"/>
<rect x="203.40" y="293.20" width="2.0" height="2.0" fill="#c62ed8"/>
<line x1="24.7" y1="237.8" x2="24.7" y2="333.45" stroke="#000000" stroke-width="1.3" />
<line x1="24.05" y1="332.8" x2="214" y2="332.8" stroke="#000000" stroke-width="1.3" />
<line x1="22.099999999999998" y1="332.8" x2="24.7" y2="332.8" stroke="#000000" stroke-width="1.1" />
<text x="0" y="0" font-size="7.1" font-weight="bold" fill="#000" text-anchor="end" transform="translate(21.30 334.90) scale(1 1.1)" stroke="#000" stroke-width="0.1">0</text>
<line x1="22.099999999999998" y1="313.8" x2="24.7" y2="313.8" stroke="#000000" stroke-width="1.1" />
<text x="0" y="0" font-size="7.1" font-weight="bold" fill="#000" text-anchor="end" transform="translate(21.30 315.90) scale(1 1.1)" stroke="#000" stroke-width="0.1">2</text>
<line x1="22.099999999999998" y1="294.8" x2="24.7" y2="294.8" stroke="#000000" stroke-width="1.1" />
<text x="0" y="0" font-size="7.1" font-weight="bold" fill="#000" text-anchor="end" transform="translate(21.30 296.90) scale(1 1.1)" stroke="#000" stroke-width="0.1">4</text>
<line x1="22.099999999999998" y1="275.8" x2="24.7" y2="275.8" stroke="#000000" stroke-width="1.1" />
<text x="0" y="0" font-size="7.1" font-weight="bold" fill="#000" text-anchor="end" transform="translate(21.30 277.90) scale(1 1.1)" stroke="#000" stroke-width="0.1">6</text>
<line x1="22.099999999999998" y1="256.8" x2="24.7" y2="256.8" stroke="#000000" stroke-width="1.1" />
<text x="0" y="0" font-size="7.1" font-weight="bold" fill="#000" text-anchor="end" transform="translate(21.30 258.90) scale(1 1.1)" stroke="#000" stroke-width="0.1">8</text>
<line x1="22.099999999999998" y1="237.8" x2="24.7" y2="237.8" stroke="#000000" stroke-width="1.1" />
<text x="0" y="0" font-size="7.1" font-weight="bold" fill="#000" text-anchor="end" transform="translate(21.30 239.90) scale(1 1.1)" stroke="#000" stroke-width="0.1">10</text>
<text x="9.3" y="284.6" font-size="7.8" font-weight="bold" fill="#000" text-anchor="middle" transform="rotate(-90 9.3 284.6)">Time(s)</text>
<line x1="99" y1="243.2" x2="110.7" y2="243.2" stroke="#222" stroke-width="0.85" />
<circle cx="101.85" cy="240.90" r="1.05" fill="#111"/>
<circle cx="104.85" cy="240.90" r="1.05" fill="#111"/>
<circle cx="107.85" cy="240.90" r="1.05" fill="#111"/>
<line x1="114.9" y1="243.2" x2="126.2" y2="243.2" stroke="#222" stroke-width="0.85" />
<circle cx="117.55" cy="240.90" r="1.05" fill="#111"/>
<circle cx="120.55" cy="240.90" r="1.05" fill="#111"/>
<circle cx="123.55" cy="240.90" r="1.05" fill="#111"/>
<line x1="130.4" y1="243.2" x2="142.1" y2="243.2" stroke="#222" stroke-width="0.85" />
<circle cx="133.25" cy="240.90" r="1.05" fill="#111"/>
<circle cx="136.25" cy="240.90" r="1.05" fill="#111"/>
<circle cx="139.25" cy="240.90" r="1.05" fill="#111"/>
<line x1="162.7" y1="243.2" x2="174.1" y2="243.2" stroke="#222" stroke-width="0.85" />
<circle cx="165.40" cy="240.90" r="1.05" fill="#111"/>
<circle cx="168.40" cy="240.90" r="1.05" fill="#111"/>
<circle cx="171.40" cy="240.90" r="1.05" fill="#111"/>
<line x1="177.8" y1="243.2" x2="189.2" y2="243.2" stroke="#222" stroke-width="0.85" />
<circle cx="180.50" cy="240.90" r="1.05" fill="#111"/>
<circle cx="183.50" cy="240.90" r="1.05" fill="#111"/>
<circle cx="186.50" cy="240.90" r="1.05" fill="#111"/>
<line x1="192.5" y1="243.2" x2="204.2" y2="243.2" stroke="#222" stroke-width="0.85" />
<circle cx="196.85" cy="240.90" r="1.05" fill="#111"/>
<circle cx="199.85" cy="240.90" r="1.05" fill="#111"/>
<text x="248.5" y="203.7" font-size="9.2" font-weight="bold" fill="#000" text-anchor="start" >D</text>
<text x="368" y="217.3" font-size="7.8" font-weight="bold" fill="#000" text-anchor="middle" >Rotarod test</text>
<path d="M280.95,332.80 V279.50 H289.45 V332.80" fill="none" stroke="#000000" stroke-width="1.2"/>
<line x1="285.2" y1="279.5" x2="285.2" y2="276" stroke="#000000" stroke-width="1.0" />
<line x1="283.2" y1="276" x2="287.2" y2="276" stroke="#000000" stroke-width="1.0" />
<path d="M294.55,332.80 V282.10 H303.05 V332.80" fill="none" stroke="#ff0000" stroke-width="1.2"/>
<line x1="298.8" y1="282.1" x2="298.8" y2="277.8" stroke="#ff0000" stroke-width="1.0" />
<line x1="296.8" y1="277.8" x2="300.8" y2="277.8" stroke="#ff0000" stroke-width="1.0" />
<path d="M307.55,332.80 V279.10 H316.05 V332.80" fill="none" stroke="#1f1fff" stroke-width="1.2"/>
<line x1="311.8" y1="279.1" x2="311.8" y2="274.3" stroke="#1f1fff" stroke-width="1.0" />
<line x1="309.8" y1="274.3" x2="313.8" y2="274.3" stroke="#1f1fff" stroke-width="1.0" />
<path d="M321.25,332.80 V281.20 H329.75 V332.80" fill="none" stroke="#c62ed8" stroke-width="1.2"/>
<line x1="325.5" y1="281.2" x2="325.5" y2="276.9" stroke="#c62ed8" stroke-width="1.0" />
<line x1="323.5" y1="276.9" x2="327.5" y2="276.9" stroke="#c62ed8" stroke-width="1.0" />
<text x="0" y="0" font-size="7.1" font-weight="bold" fill="#000" text-anchor="middle" transform="translate(305.30 343.60) scale(1 1.08)">Week 0</text>
<path d="M343.35,332.80 V275.20 H351.85 V332.80" fill="none" stroke="#000000" stroke-width="1.2"/>
<line x1="347.6" y1="275.2" x2="347.6" y2="271.7" stroke="#000000" stroke-width="1.0" />
<line x1="345.6" y1="271.7" x2="349.6" y2="271.7" stroke="#000000" stroke-width="1.0" />
<path d="M356.85,332.80 V289.60 H365.35 V332.80" fill="none" stroke="#ff0000" stroke-width="1.2"/>
<line x1="361.1" y1="289.6" x2="361.1" y2="285.6" stroke="#ff0000" stroke-width="1.0" />
<line x1="359.1" y1="285.6" x2="363.1" y2="285.6" stroke="#ff0000" stroke-width="1.0" />
<path d="M369.85,332.80 V278.60 H378.35 V332.80" fill="none" stroke="#1f1fff" stroke-width="1.2"/>
<line x1="374.1" y1="278.6" x2="374.1" y2="276" stroke="#1f1fff" stroke-width="1.0" />
<line x1="372.1" y1="276" x2="376.1" y2="276" stroke="#1f1fff" stroke-width="1.0" />
<path d="M383.45,332.80 V291.30 H391.95 V332.80" fill="none" stroke="#c62ed8" stroke-width="1.2"/>
<line x1="387.7" y1="291.3" x2="387.7" y2="288.2" stroke="#c62ed8" stroke-width="1.0" />
<line x1="385.7" y1="288.2" x2="389.7" y2="288.2" stroke="#c62ed8" stroke-width="1.0" />
<text x="0" y="0" font-size="7.1" font-weight="bold" fill="#000" text-anchor="middle" transform="translate(367.60 343.60) scale(1 1.08)">Week 5</text>
<path d="M405.75,332.80 V270.00 H414.25 V332.80" fill="none" stroke="#000000" stroke-width="1.2"/>
<line x1="410.0" y1="270" x2="410.0" y2="267.3" stroke="#000000" stroke-width="1.0" />
<line x1="408.0" y1="267.3" x2="412.0" y2="267.3" stroke="#000000" stroke-width="1.0" />
<path d="M419.25,332.80 V283.00 H427.75 V332.80" fill="none" stroke="#ff0000" stroke-width="1.2"/>
<line x1="423.5" y1="283" x2="423.5" y2="279.8" stroke="#ff0000" stroke-width="1.0" />
<line x1="421.5" y1="279.8" x2="425.5" y2="279.8" stroke="#ff0000" stroke-width="1.0" />
<path d="M432.75,332.80 V270.80 H441.25 V332.80" fill="none" stroke="#1f1fff" stroke-width="1.2"/>
<line x1="437.0" y1="270.8" x2="437.0" y2="267.3" stroke="#1f1fff" stroke-width="1.0" />
<line x1="435.0" y1="267.3" x2="439.0" y2="267.3" stroke="#1f1fff" stroke-width="1.0" />
<path d="M446.25,332.80 V283.80 H454.75 V332.80" fill="none" stroke="#c62ed8" stroke-width="1.2"/>
<line x1="450.5" y1="283.8" x2="450.5" y2="279.8" stroke="#c62ed8" stroke-width="1.0" />
<line x1="448.5" y1="279.8" x2="452.5" y2="279.8" stroke="#c62ed8" stroke-width="1.0" />
<text x="0" y="0" font-size="7.1" font-weight="bold" fill="#000" text-anchor="middle" transform="translate(430.25 343.60) scale(1 1.08)">Week 6</text>
<rect x="283.90" y="265.50" width="2.0" height="2.0" fill="#000000"/>
<rect x="283.10" y="272.40" width="2.0" height="2.0" fill="#000000"/>
<rect x="285.30" y="273.30" width="2.0" height="2.0" fill="#000000"/>
<rect x="281.90" y="275.00" width="2.0" height="2.0" fill="#000000"/>
<rect x="286.50" y="275.00" width="2.0" height="2.0" fill="#000000"/>
<rect x="283.60" y="276.80" width="2.0" height="2.0" fill="#000000"/>
<rect x="285.70" y="277.60" width="2.0" height="2.0" fill="#000000"/>
<rect x="282.20" y="279.40" width="2.0" height="2.0" fill="#000000"/>
<rect x="284.80" y="280.20" width="2.0" height="2.0" fill="#000000"/>
<rect x="286.50" y="281.10" width="2.0" height="2.0" fill="#000000"/>
<rect x="283.10" y="282.80" width="2.0" height="2.0" fill="#000000"/>
<rect x="285.70" y="282.80" width="2.0" height="2.0" fill="#000000"/>
<rect x="283.90" y="285.40" width="2.0" height="2.0" fill="#000000"/>
<rect x="281.90" y="281.10" width="2.0" height="2.0" fill="#000000"/>
<rect x="346.30" y="253.90" width="2.0" height="2.0" fill="#000000"/>
<rect x="345.10" y="258.50" width="2.0" height="2.0" fill="#000000"/>
<rect x="347.70" y="259.80" width="2.0" height="2.0" fill="#000000"/>
<rect x="346.80" y="261.10" width="2.0" height="2.0" fill="#000000"/>
<rect x="345.90" y="271.60" width="2.0" height="2.0" fill="#000000"/>
<rect x="347.30" y="274.20" width="2.0" height="2.0" fill="#000000"/>
<rect x="345.10" y="275.90" width="2.0" height="2.0" fill="#000000"/>
<rect x="348.50" y="277.60" width="2.0" height="2.0" fill="#000000"/>
<rect x="344.20" y="278.50" width="2.0" height="2.0" fill="#000000"/>
<rect x="346.80" y="281.10" width="2.0" height="2.0" fill="#000000"/>
<rect x="349.40" y="282.00" width="2.0" height="2.0" fill="#000000"/>
<rect x="345.90" y="283.70" width="2.0" height="2.0" fill="#000000"/>
<rect x="348.50" y="285.40" width="2.0" height="2.0" fill="#000000"/>
<rect x="346.80" y="291.50" width="2.0" height="2.0" fill="#000000"/>
<rect x="343.50" y="276.00" width="2.0" height="2.0" fill="#000000"/>
<rect x="350.00" y="278.50" width="2.0" height="2.0" fill="#000000"/>
<rect x="343.50" y="284.00" width="2.0" height="2.0" fill="#000000"/>
<rect x="350.00" y="287.00" width="2.0" height="2.0" fill="#000000"/>
<rect x="347.00" y="288.50" width="2.0" height="2.0" fill="#000000"/>
<rect x="407.90" y="254.20" width="2.0" height="2.0" fill="#000000"/>
<rect x="406.20" y="256.80" width="2.0" height="2.0" fill="#000000"/>
<rect x="410.50" y="255.90" width="2.0" height="2.0" fill="#000000"/>
<rect x="408.80" y="258.50" width="2.0" height="2.0" fill="#000000"/>
<rect x="411.40" y="259.40" width="2.0" height="2.0" fill="#000000"/>
<rect x="407.10" y="260.30" width="2.0" height="2.0" fill="#000000"/>
<rect x="409.70" y="261.10" width="2.0" height="2.0" fill="#000000"/>
<rect x="408.80" y="269.80" width="2.0" height="2.0" fill="#000000"/>
<rect x="406.20" y="271.60" width="2.0" height="2.0" fill="#000000"/>
<rect x="411.40" y="270.70" width="2.0" height="2.0" fill="#000000"/>
<rect x="407.90" y="275.00" width="2.0" height="2.0" fill="#000000"/>
<rect x="410.50" y="275.90" width="2.0" height="2.0" fill="#000000"/>
<rect x="407.10" y="278.50" width="2.0" height="2.0" fill="#000000"/>
<rect x="409.70" y="280.20" width="2.0" height="2.0" fill="#000000"/>
<rect x="408.80" y="282.80" width="2.0" height="2.0" fill="#000000"/>
<rect x="297.00" y="262.90" width="2.0" height="2.0" fill="#ff0000"/>
<rect x="295.20" y="265.50" width="2.0" height="2.0" fill="#ff0000"/>
<rect x="299.20" y="266.30" width="2.0" height="2.0" fill="#ff0000"/>
<rect x="296.40" y="269.80" width="2.0" height="2.0" fill="#ff0000"/>
<rect x="298.70" y="270.70" width="2.0" height="2.0" fill="#ff0000"/>
<rect x="296.10" y="282.80" width="2.0" height="2.0" fill="#ff0000"/>
<rect x="298.70" y="284.60" width="2.0" height="2.0" fill="#ff0000"/>
<rect x="295.20" y="286.30" width="2.0" height="2.0" fill="#ff0000"/>
<rect x="299.60" y="288.00" width="2.0" height="2.0" fill="#ff0000"/>
<rect x="297.80" y="290.60" width="2.0" height="2.0" fill="#ff0000"/>
<rect x="300.40" y="291.50" width="2.0" height="2.0" fill="#ff0000"/>
<rect x="297.00" y="296.70" width="2.0" height="2.0" fill="#ff0000"/>
<rect x="359.80" y="282.00" width="2.0" height="2.0" fill="#ff0000"/>
<rect x="357.20" y="284.60" width="2.0" height="2.0" fill="#ff0000"/>
<rect x="362.40" y="285.40" width="2.0" height="2.0" fill="#ff0000"/>
<rect x="359.00" y="287.20" width="2.0" height="2.0" fill="#ff0000"/>
<rect x="361.20" y="288.00" width="2.0" height="2.0" fill="#ff0000"/>
<rect x="358.10" y="289.80" width="2.0" height="2.0" fill="#ff0000"/>
<rect x="360.70" y="290.60" width="2.0" height="2.0" fill="#ff0000"/>
<rect x="362.40" y="292.40" width="2.0" height="2.0" fill="#ff0000"/>
<rect x="357.20" y="294.10" width="2.0" height="2.0" fill="#ff0000"/>
<rect x="359.80" y="295.00" width="2.0" height="2.0" fill="#ff0000"/>
<rect x="361.60" y="295.80" width="2.0" height="2.0" fill="#ff0000"/>
<rect x="359.80" y="300.20" width="2.0" height="2.0" fill="#ff0000"/>
<rect x="356.50" y="289.00" width="2.0" height="2.0" fill="#ff0000"/>
<rect x="363.00" y="290.00" width="2.0" height="2.0" fill="#ff0000"/>
<rect x="357.00" y="297.50" width="2.0" height="2.0" fill="#ff0000"/>
<rect x="362.00" y="299.00" width="2.0" height="2.0" fill="#ff0000"/>
<rect x="360.00" y="302.50" width="2.0" height="2.0" fill="#ff0000"/>
<rect x="358.00" y="292.50" width="2.0" height="2.0" fill="#ff0000"/>
<rect x="421.50" y="268.10" width="2.0" height="2.0" fill="#ff0000"/>
<rect x="423.60" y="268.10" width="2.0" height="2.0" fill="#ff0000"/>
<rect x="421.00" y="273.30" width="2.0" height="2.0" fill="#ff0000"/>
<rect x="424.40" y="275.90" width="2.0" height="2.0" fill="#ff0000"/>
<rect x="419.20" y="276.80" width="2.0" height="2.0" fill="#ff0000"/>
<rect x="422.70" y="277.60" width="2.0" height="2.0" fill="#ff0000"/>
<rect x="420.10" y="280.20" width="2.0" height="2.0" fill="#ff0000"/>
<rect x="425.30" y="282.80" width="2.0" height="2.0" fill="#ff0000"/>
<rect x="421.80" y="283.70" width="2.0" height="2.0" fill="#ff0000"/>
<rect x="423.60" y="286.30" width="2.0" height="2.0" fill="#ff0000"/>
<rect x="421.00" y="289.80" width="2.0" height="2.0" fill="#ff0000"/>
<rect x="422.70" y="293.20" width="2.0" height="2.0" fill="#ff0000"/>
<rect x="423.60" y="295.00" width="2.0" height="2.0" fill="#ff0000"/>
<rect x="310.80" y="257.70" width="2.0" height="2.0" fill="#1f1fff"/>
<rect x="310.80" y="261.10" width="2.0" height="2.0" fill="#1f1fff"/>
<rect x="310.80" y="264.60" width="2.0" height="2.0" fill="#1f1fff"/>
<rect x="308.20" y="271.60" width="2.0" height="2.0" fill="#1f1fff"/>
<rect x="311.70" y="272.40" width="2.0" height="2.0" fill="#1f1fff"/>
<rect x="314.30" y="271.60" width="2.0" height="2.0" fill="#1f1fff"/>
<rect x="310.00" y="275.00" width="2.0" height="2.0" fill="#1f1fff"/>
<rect x="312.60" y="275.90" width="2.0" height="2.0" fill="#1f1fff"/>
<rect x="310.80" y="287.20" width="2.0" height="2.0" fill="#1f1fff"/>
<rect x="309.10" y="293.20" width="2.0" height="2.0" fill="#1f1fff"/>
<rect x="311.70" y="295.80" width="2.0" height="2.0" fill="#1f1fff"/>
<rect x="310.80" y="299.30" width="2.0" height="2.0" fill="#1f1fff"/>
<rect x="373.40" y="262.50" width="2.0" height="2.0" fill="#1f1fff"/>
<rect x="371.10" y="266.30" width="2.0" height="2.0" fill="#1f1fff"/>
<rect x="375.40" y="267.20" width="2.0" height="2.0" fill="#1f1fff"/>
<rect x="372.80" y="269.00" width="2.0" height="2.0" fill="#1f1fff"/>
<rect x="376.30" y="273.30" width="2.0" height="2.0" fill="#1f1fff"/>
<rect x="372.80" y="273.30" width="2.0" height="2.0" fill="#1f1fff"/>
<rect x="371.10" y="281.10" width="2.0" height="2.0" fill="#1f1fff"/>
<rect x="374.60" y="282.00" width="2.0" height="2.0" fill="#1f1fff"/>
<rect x="372.80" y="283.70" width="2.0" height="2.0" fill="#1f1fff"/>
<rect x="375.40" y="286.30" width="2.0" height="2.0" fill="#1f1fff"/>
<rect x="373.70" y="293.20" width="2.0" height="2.0" fill="#1f1fff"/>
<rect x="435.70" y="255.90" width="2.0" height="2.0" fill="#1f1fff"/>
<rect x="434.80" y="260.30" width="2.0" height="2.0" fill="#1f1fff"/>
<rect x="437.40" y="261.10" width="2.0" height="2.0" fill="#1f1fff"/>
<rect x="433.10" y="263.70" width="2.0" height="2.0" fill="#1f1fff"/>
<rect x="436.60" y="264.60" width="2.0" height="2.0" fill="#1f1fff"/>
<rect x="438.30" y="266.30" width="2.0" height="2.0" fill="#1f1fff"/>
<rect x="434.80" y="267.20" width="2.0" height="2.0" fill="#1f1fff"/>
<rect x="436.60" y="270.70" width="2.0" height="2.0" fill="#1f1fff"/>
<rect x="434.00" y="275.00" width="2.0" height="2.0" fill="#1f1fff"/>
<rect x="437.40" y="277.60" width="2.0" height="2.0" fill="#1f1fff"/>
<rect x="435.70" y="281.10" width="2.0" height="2.0" fill="#1f1fff"/>
<rect x="434.80" y="284.60" width="2.0" height="2.0" fill="#1f1fff"/>
<rect x="437.10" y="287.20" width="2.0" height="2.0" fill="#1f1fff"/>
<rect x="323.80" y="254.20" width="2.0" height="2.0" fill="#c62ed8"/>
<rect x="323.00" y="266.30" width="2.0" height="2.0" fill="#c62ed8"/>
<rect x="326.40" y="265.50" width="2.0" height="2.0" fill="#c62ed8"/>
<rect x="322.50" y="270.70" width="2.0" height="2.0" fill="#c62ed8"/>
<rect x="325.60" y="270.70" width="2.0" height="2.0" fill="#c62ed8"/>
<rect x="323.50" y="290.60" width="2.0" height="2.0" fill="#c62ed8"/>
<rect x="324.70" y="291.50" width="2.0" height="2.0" fill="#c62ed8"/>
<rect x="325.60" y="294.10" width="2.0" height="2.0" fill="#c62ed8"/>
<rect x="323.80" y="305.40" width="2.0" height="2.0" fill="#c62ed8"/>
<rect x="322.50" y="281.00" width="2.0" height="2.0" fill="#c62ed8"/>
<rect x="326.00" y="283.00" width="2.0" height="2.0" fill="#c62ed8"/>
<rect x="386.70" y="274.20" width="2.0" height="2.0" fill="#c62ed8"/>
<rect x="383.20" y="284.60" width="2.0" height="2.0" fill="#c62ed8"/>
<rect x="385.80" y="285.40" width="2.0" height="2.0" fill="#c62ed8"/>
<rect x="389.30" y="284.60" width="2.0" height="2.0" fill="#c62ed8"/>
<rect x="386.70" y="288.00" width="2.0" height="2.0" fill="#c62ed8"/>
<rect x="384.10" y="292.40" width="2.0" height="2.0" fill="#c62ed8"/>
<rect x="387.60" y="294.10" width="2.0" height="2.0" fill="#c62ed8"/>
<rect x="388.40" y="299.30" width="2.0" height="2.0" fill="#c62ed8"/>
<rect x="385.80" y="296.70" width="2.0" height="2.0" fill="#c62ed8"/>
<rect x="447.80" y="265.50" width="2.0" height="2.0" fill="#c62ed8"/>
<rect x="451.00" y="266.00" width="2.0" height="2.0" fill="#c62ed8"/>
<rect x="448.70" y="272.40" width="2.0" height="2.0" fill="#c62ed8"/>
<rect x="451.30" y="273.30" width="2.0" height="2.0" fill="#c62ed8"/>
<rect x="447.50" y="277.60" width="2.0" height="2.0" fill="#c62ed8"/>
<rect x="450.50" y="278.50" width="2.0" height="2.0" fill="#c62ed8"/>
<rect x="449.20" y="281.10" width="2.0" height="2.0" fill="#c62ed8"/>
<rect x="447.00" y="291.50" width="2.0" height="2.0" fill="#c62ed8"/>
<rect x="451.30" y="293.20" width="2.0" height="2.0" fill="#c62ed8"/>
<rect x="449.60" y="295.80" width="2.0" height="2.0" fill="#c62ed8"/>
<rect x="447.80" y="301.00" width="2.0" height="2.0" fill="#c62ed8"/>
<line x1="276.2" y1="237.4" x2="276.2" y2="333.45" stroke="#000000" stroke-width="1.3" />
<line x1="275.55" y1="332.8" x2="459.6" y2="332.8" stroke="#000000" stroke-width="1.3" />
<line x1="273.59999999999997" y1="332.8" x2="276.2" y2="332.8" stroke="#000000" stroke-width="1.1" />
<text x="0" y="0" font-size="7.1" font-weight="bold" fill="#000" text-anchor="end" transform="translate(272.80 334.90) scale(1 1.1)" stroke="#000" stroke-width="0.1">0</text>
<line x1="273.59999999999997" y1="313.72" x2="276.2" y2="313.72" stroke="#000000" stroke-width="1.1" />
<text x="0" y="0" font-size="7.1" font-weight="bold" fill="#000" text-anchor="end" transform="translate(272.80 315.82) scale(1 1.1)" stroke="#000" stroke-width="0.1">50</text>
<line x1="273.59999999999997" y1="294.64" x2="276.2" y2="294.64" stroke="#000000" stroke-width="1.1" />
<text x="0" y="0" font-size="7.1" font-weight="bold" fill="#000" text-anchor="end" transform="translate(272.80 296.74) scale(1 1.1)" stroke="#000" stroke-width="0.1">100</text>
<line x1="273.59999999999997" y1="275.56" x2="276.2" y2="275.56" stroke="#000000" stroke-width="1.1" />
<text x="0" y="0" font-size="7.1" font-weight="bold" fill="#000" text-anchor="end" transform="translate(272.80 277.66) scale(1 1.1)" stroke="#000" stroke-width="0.1">150</text>
<line x1="273.59999999999997" y1="256.48" x2="276.2" y2="256.48" stroke="#000000" stroke-width="1.1" />
<text x="0" y="0" font-size="7.1" font-weight="bold" fill="#000" text-anchor="end" transform="translate(272.80 258.58) scale(1 1.1)" stroke="#000" stroke-width="0.1">200</text>
<line x1="273.59999999999997" y1="237.4" x2="276.2" y2="237.4" stroke="#000000" stroke-width="1.1" />
<text x="0" y="0" font-size="7.1" font-weight="bold" fill="#000" text-anchor="end" transform="translate(272.80 239.50) scale(1 1.1)" stroke="#000" stroke-width="0.1">250</text>
<text x="254.5" y="284.6" font-size="7.8" font-weight="bold" fill="#000" text-anchor="middle" transform="rotate(-90 254.5 284.6)">Time(s)</text>
<line x1="348.3" y1="241.3" x2="360" y2="241.3" stroke="#222" stroke-width="0.85" />
<circle cx="351.15" cy="239.00" r="1.05" fill="#111"/>
<circle cx="354.15" cy="239.00" r="1.05" fill="#111"/>
<circle cx="357.15" cy="239.00" r="1.05" fill="#111"/>
<line x1="362.9" y1="241.3" x2="374.5" y2="241.3" stroke="#222" stroke-width="0.85" />
<circle cx="365.70" cy="239.00" r="1.05" fill="#111"/>
<circle cx="368.70" cy="239.00" r="1.05" fill="#111"/>
<circle cx="371.70" cy="239.00" r="1.05" fill="#111"/>
<line x1="377.5" y1="241.3" x2="389.1" y2="241.3" stroke="#222" stroke-width="0.85" />
<circle cx="380.30" cy="239.00" r="1.05" fill="#111"/>
<circle cx="383.30" cy="239.00" r="1.05" fill="#111"/>
<circle cx="386.30" cy="239.00" r="1.05" fill="#111"/>
<line x1="410.9" y1="241.3" x2="422.5" y2="241.3" stroke="#222" stroke-width="0.85" />
<circle cx="413.70" cy="239.00" r="1.05" fill="#111"/>
<circle cx="416.70" cy="239.00" r="1.05" fill="#111"/>
<circle cx="419.70" cy="239.00" r="1.05" fill="#111"/>
<line x1="425.5" y1="241.3" x2="437.1" y2="241.3" stroke="#222" stroke-width="0.85" />
<circle cx="429.80" cy="239.00" r="1.05" fill="#111"/>
<circle cx="432.80" cy="239.00" r="1.05" fill="#111"/>
<line x1="440" y1="241.3" x2="451.7" y2="241.3" stroke="#222" stroke-width="0.85" />
<circle cx="442.85" cy="239.00" r="1.05" fill="#111"/>
<circle cx="445.85" cy="239.00" r="1.05" fill="#111"/>
<circle cx="448.85" cy="239.00" r="1.05" fill="#111"/>
<circle cx="471.9" cy="214.6" r="1.2" fill="#000000"/>
<text x="484" y="217.7" font-size="9.0" font-weight="normal" fill="#000" text-anchor="start" >Ctrl</text>
<circle cx="471.9" cy="229.0" r="1.2" fill="#ff0000"/>
<text x="484" y="232.1" font-size="9.0" font-weight="normal" fill="#000" text-anchor="start" >CPZ+Veh</text>
<circle cx="471.9" cy="243.4" r="1.2" fill="#1f1fff"/>
<text x="484" y="246.5" font-size="9.0" font-weight="normal" fill="#000" text-anchor="start" >CPZ+HupA</text>
<circle cx="471.9" cy="257.8" r="1.2" fill="#c62ed8"/>
<text x="484" y="260.90000000000003" font-size="9.0" font-weight="normal" fill="#000" text-anchor="start" >CPZ+HupA+Mec</text>
</svg></body></html>
